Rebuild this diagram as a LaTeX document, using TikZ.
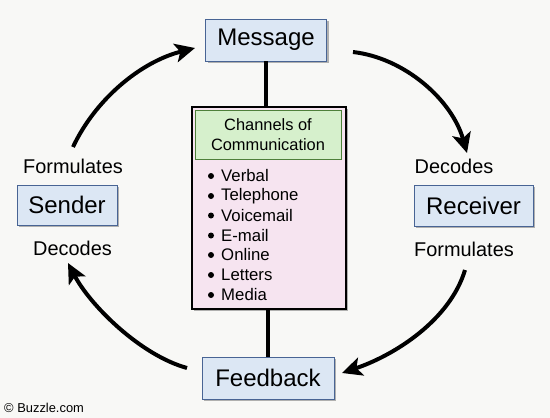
\documentclass[tikz,border=0pt]{standalone}
\usepackage{fontspec}
\setmainfont{Liberation Sans}
\usepackage{tikz}
\usetikzlibrary{arrows.meta,shadows}
\usepackage{xcolor}
\definecolor{bzbg}{RGB}{248,248,246}
\definecolor{bzblue}{RGB}{220,231,244}
\definecolor{bzblueline}{RGB}{72,100,148}
\definecolor{bzgreen}{RGB}{214,240,204}
\definecolor{bzgreenline}{RGB}{78,128,58}
\definecolor{bzpink}{RGB}{246,228,240}
\tikzstyle{flow} = [line width=3.4pt,-{Stealth[length=17pt,width=16pt,inset=4pt]}]
\tikzstyle{role} = [rectangle, draw=bzblueline, fill=bzblue, line width=0.8pt, inner sep=0pt, font=\fontsize{20.5}{24}\selectfont, drop shadow={opacity=0.6,shadow xshift=2pt,shadow yshift=-2pt}]
\tikzstyle{act} = [inner sep=0pt, font=\fontsize{17}{20}\selectfont]
\tikzstyle{item} = [anchor=west, inner sep=0pt, font=\fontsize{14.3}{16}\selectfont]

\begin{document}
\begin{tikzpicture}[x=0.03cm, y=-0.03cm]
    \fill[bzbg] (0,0) rectangle (550,418);
    \useasboundingbox (0,0) rectangle (550,418);

    % Four stages
    \node[role, minimum width=3.63cm, minimum height=1.26cm] (msg) at (266,40) {Message};
    \node[role, minimum width=3.0cm, minimum height=1.2cm] (snd) at (67,205) {Sender};
    \node[role, minimum width=3.57cm, minimum height=1.23cm] (rcv) at (473.5,205.5) {Receiver};
    \node[role, minimum width=3.96cm, minimum height=1.26cm] (fb) at (268,378) {Feedback};

    % Channels box
    \node[rectangle, draw=black, fill=bzpink, line width=1.2pt, minimum width=4.62cm, minimum height=6.06cm, drop shadow={opacity=0.6,shadow xshift=2pt,shadow yshift=-2pt}] (ch) at (269,208) {};
    \node[rectangle, draw=bzgreenline, fill=bzgreen, line width=0.8pt, minimum width=4.38cm, minimum height=1.47cm, align=center, font=\fontsize{14}{17}\selectfont] (chhead) at (268,134.5) {Channels of\\Communication};

    \node[item] (i1) at (221,176) {Verbal};
    \node[item] (i2) at (221,196) {Telephone};
    \node[item] (i3) at (221,215.5) {Voicemail};
    \node[item] (i4) at (221,235.5) {E-mail};
    \node[item] (i5) at (221,255) {Online};
    \node[item] (i6) at (221,275) {Letters};
    \node[item] (i7) at (221,295) {Media};
    % bullets
    \fill (211,176) circle (3);
    \fill (211,196) circle (3);
    \fill (211,215.5) circle (3);
    \fill (211,235.5) circle (3);
    \fill (211,255) circle (3);
    \fill (211,275) circle (3);
    \fill (211,295) circle (3);

    \draw[line width=3.4pt] (msg.south) -- (msg.south |- ch.north);
    \draw[line width=3.4pt] (fb.north |- ch.south) -- (fb.north);

    % Labels
    \node[act] (fml) at (73,166) {Formulates};
    \node[act] (dcl) at (72.5,248) {Decodes};
    \node[act] (dcr) at (454,166) {Decodes};
    \node[act] (fmr) at (464,249) {Formulates};

    % Arrows
    \coordinate (a1) at (73,147);
    \coordinate (t1) at (195,48);
    \coordinate (a2) at (353,52);
    \coordinate (t2) at (467,153);
    \coordinate (a3) at (465,270);
    \coordinate (t3) at (342,373);
    \coordinate (a4) at (187,368);
    \coordinate (t4) at (68,263);
    \draw[flow] (a1) .. controls (95,100) and (140,62) .. (t1);
    \draw[flow] (a2) .. controls (405,58) and (452,100) .. (t2);
    \draw[flow] (a3) .. controls (450,320) and (395,355) .. (t3);
    \draw[flow] (a4) .. controls (140,355) and (90,305) .. (t4);

    \node[anchor=west, inner sep=0pt, font=\fontsize{11}{13}\selectfont] (copy) at (4,408) {\textcopyright\ Buzzle.com};
\end{tikzpicture}
\end{document}
